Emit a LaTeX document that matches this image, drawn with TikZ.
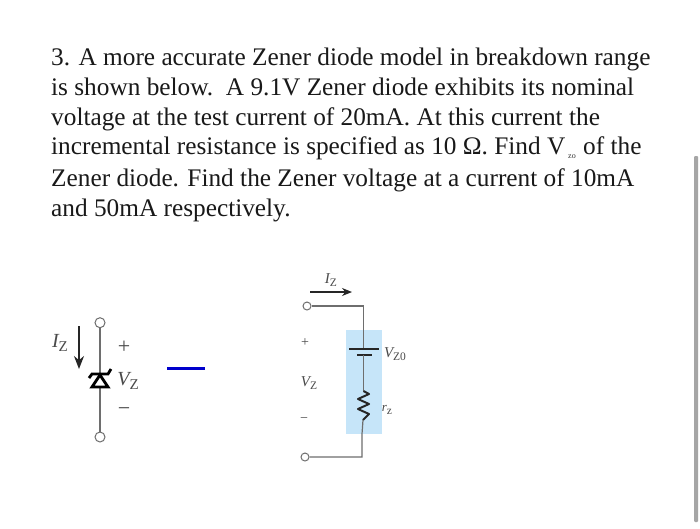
\documentclass[tikz,border=0pt]{standalone}
\usepackage{fontspec}
\setmainfont{Liberation Serif}
\usetikzlibrary{arrows.meta}
\definecolor{wiregray}{HTML}{6E6E6E}
\definecolor{panelblue}{HTML}{C6E5F9}
\definecolor{labelgray}{HTML}{4A4A4A}
\tikzset{
  textline/.style={anchor=base west,inner sep=0pt,font=\fontsize{25.3}{25.3}\selectfont,text=black!90},
  terminal/.style={circle,draw=wiregray,fill=white,line width=1pt,minimum size=10pt,inner sep=0pt},
  smallterminal/.style={terminal,minimum size=8pt},
  wire/.style={draw=wiregray,line width=1.2pt},
  plate/.style={draw=black!85,line width=2.2pt},
  biglabel/.style={inner sep=0pt,text=labelgray,font=\fontsize{20}{20}\selectfont\itshape},
  midlabel/.style={inner sep=0pt,text=labelgray,font=\fontsize{15}{15}\selectfont\itshape},
  tinylabel/.style={inner sep=0pt,text=labelgray,font=\fontsize{13}{13}\selectfont\itshape},
  bigsign/.style={inner sep=0pt,text=labelgray,font=\fontsize{22}{22}\selectfont},
  smallsign/.style={inner sep=0pt,text=labelgray,font=\fontsize{14}{14}\selectfont},
  curarrow/.style={draw=black!85,line width=1.3pt,-{Stealth[length=13pt,width=10pt]}},
  smallarrow/.style={draw=black!85,line width=1.2pt,-{Stealth[length=10pt,width=8pt]}},
}
\newcommand{\subbig}[1]{\raisebox{-4pt}{\fontsize{15}{15}\selectfont\upshape #1}}
\newcommand{\submid}[1]{\raisebox{-3pt}{\fontsize{11.5}{11.5}\selectfont\upshape #1}}
\begin{document}
\begin{tikzpicture}[x=1pt,y=-1pt]
\useasboundingbox (0,0) rectangle (700,528);
\fill[white] (0,0) rectangle (700,528);
% text
\node[textline] (l1) at (51,65) {3. A more accurate Zener diode model in breakdown range};
\node[textline] (l2) at (51,95) {is shown below.\ \ A 9.1V Zener diode exhibits its nominal};
\node[textline] (l3) at (51,125) {voltage at the test current of 20mA. At this current the};
\node[textline] (l4) at (51,154) {incremental resistance is specified as 10 Ω. Find V};
\node[inner sep=0pt,font=\fontsize{8}{8}\selectfont,text=black!80] (zo) at (572,157) {zo};
\node[textline] (l4b) at (583,154) {of the};
\node[textline] (l5) at (51,186) {Zener diode. Find the Zener voltage at a current of 10mA};
\node[textline] (l6) at (51,216) {and 50mA respectively.};
% scrollbar
\fill[black!35,rounded corners=1pt] (694,156) rectangle (698,522);
% left symbol
\node[terminal] (lt) at (100,322.7) {};
\node[terminal] (lb) at (100,437) {};
\coordinate (da) at (100,373);
\coordinate (dc) at (100,388);
\draw[wire] (lt) -- (da);
\draw[wire] (dc) -- (lb);
\draw[draw=black,line width=2.8pt,fill=white,line join=miter] (100,375) -- (92,387) -- (108,387) -- cycle;
\draw[draw=black,line width=2.8pt] (89,378) -- (92,374) -- (108,374) -- (111,369);
\coordinate (as) at (79,326);
\coordinate (ae) at (79,369);
\draw[curarrow] (as) -- (ae);
\node[biglabel] (iz1) at (60,343) {I\subbig{Z}};
\node[bigsign] (p1) at (124,347) {+};
\node[biglabel] (vz1) at (128,381) {V\subbig{Z}};
\node[bigsign] (m1) at (124,412) {−};
% blue dash
\coordinate (ba) at (167,368);
\coordinate (bb) at (205,368);
\draw[draw=blue!80!black,line width=3pt] (ba) -- (bb);
% right circuit
\fill[panelblue] (346,330) rectangle (382,434);
\node[smallterminal] (rt) at (307,306) {};
\node[smallterminal] (rb) at (305,457) {};
\coordinate (c1) at (363.5,306);
\coordinate (b1) at (363.5,349);
\coordinate (b2) at (363.5,355);
\coordinate (r1) at (363.5,391);
\coordinate (r2) at (363,420);
\coordinate (c2) at (362,457);
\draw[wire] (rt) -- (c1) -- (b1);
\draw[plate] (349,349) -- (379,349);
\draw[plate] (357,355) -- (372,355);
\draw[wire] (b2) -- (r1);
\draw[draw=black!85,line width=2pt,line join=round] (r1) -- (369,394) -- (358,399) -- (369,404) -- (358,409) -- (369,414) -- (363,420);
\draw[wire] (r2) -- (362,434) -- (c2) -- (rb);
\coordinate (a2s) at (310,292);
\coordinate (a2e) at (352,292);
\draw[smallarrow] (a2s) -- (a2e);
\node[midlabel] (iz2) at (331,280) {I\submid{Z}};
\node[smallsign] (p2) at (305,343) {+};
\node[midlabel] (vz2) at (309,383) {V\submid{Z}};
\node[smallsign] (m2) at (304,420) {−};
\node[midlabel] (vz0) at (395,354) {V\submid{Z0}};
\node[tinylabel] (rz) at (387,410) {r\submid{z}};
\end{tikzpicture}
\end{document}
